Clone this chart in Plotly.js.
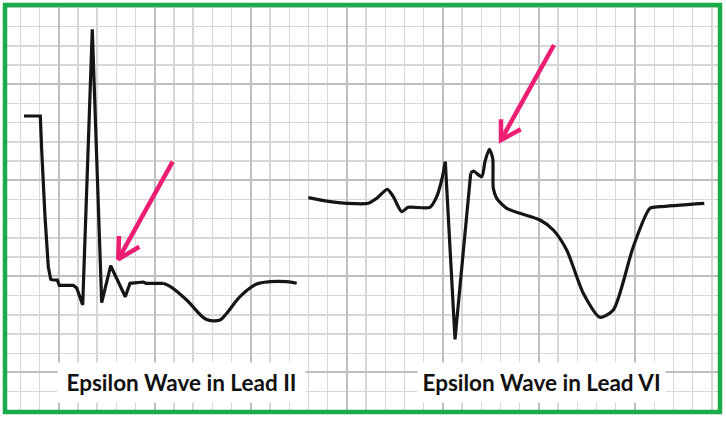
<!DOCTYPE html>
<html><head><meta charset="utf-8">
<script src="https://cdn.plot.ly/plotly-3.0.1.min.js"></script>
<style>html,body{margin:0;padding:0;background:#fff}#chart{width:726px;height:422px}</style>
</head><body><div id="chart"></div>
<script>
// Units: small ECG boxes (1 box = 40 ms horizontally, 0.1 mV vertically)
// Lead II – baseline & QRS (straight strokes)
const leadII_qrs_t = [-1.806,-0.958,-0.885,-0.713,-0.541,-0.416,-0.281,-0.073,0.031,0.760,0.937,1.249,1.749,2.238,2.707,3.467,3.712,4.404,4.545,5.445];
const leadII_qrs_v = [8.350,8.350,6.580,3.108,0.505,-0.151,-0.187,-0.187,-0.463,-0.463,-0.604,-1.489,12.863,-1.369,0.557,-1.057,-0.359,-0.292,-0.359,-0.359];
// Lead II – ST segment & inverted T wave (smooth)
const leadII_t_t = [5.445,5.800,6.663,7.668,8.397,8.745,9.438,10.307,10.999,11.869,12.389];
const leadII_t_v = [-0.359,-0.520,-1.229,-2.233,-2.270,-1.921,-1.057,-0.396,-0.276,-0.276,-0.359];
// Lead V1 – P wave & onset of QRS (smooth)
const leadV1_p_t = [12.993,14.123,14.992,16.116,16.554,17.106,17.418,17.855,18.199,19.329,19.677,19.938,20.125];
const leadV1_p_v = [4.097,3.889,3.805,3.805,4.066,4.534,4.149,3.368,3.597,3.597,4.149,5.018,5.971];
// Lead V1 – deep QS spike (straight strokes)
const leadV1_qrs_t = [20.125,20.630,21.447];
const leadV1_qrs_v = [5.971,-3.274,5.367];
// Lead V1 – epsilon notch, ST segment & inverted T wave (smooth)
const leadV1_t_t = [21.447,21.582,22.020,22.191,22.415,22.592,22.624,22.801,23.321,24.014,25.055,25.747,26.444,27.309,28.178,28.870,29.911,30.781,31.301,33.607];
const leadV1_t_v = [5.367,5.487,5.190,5.971,6.616,6.148,4.586,4.066,3.545,3.285,2.936,2.415,1.374,-0.880,-2.129,-1.749,1.546,3.545,3.628,3.805];
// Arrows pointing at the epsilon waves: [tail, tip, null, head end 1, tip, head end 2]
const arrowII_x = [5.934,3.103,null,3.139,3.103,4.196];
const arrowII_y = [5.971,0.890,null,2.103,0.890,1.546];
const arrowV1_x = [25.784,23.025,null,23.025,23.025,24.050];
const arrowV1_y = [12.046,7.100,null,8.178,7.100,7.657];
// Captions
const captions = ["Epsilon Wave in Lead II","Epsilon Wave in Lead VI"];
const caption_x = [6.37,25.15];
const caption_y = [-5.5,-5.5];

const ink = '#151515', pink = '#ec1e74', green = '#1bab4b';
const ecg = (x,y,spline,sm)=>({x:x,y:y,mode:'lines',hoverinfo:'skip',
  line:spline?{color:ink,width:3.2,shape:'spline',smoothing:sm}:{color:ink,width:3.2}});
const traces = [
  ecg(leadII_qrs_t,leadII_qrs_v,false),
  ecg(leadII_t_t,leadII_t_v,true,0.9),
  ecg(leadV1_p_t,leadV1_p_v,true,0.7),
  ecg(leadV1_qrs_t,leadV1_qrs_v,false),
  ecg(leadV1_t_t,leadV1_t_v,true,0.7),
  {x:arrowII_x,y:arrowII_y,mode:'lines',line:{color:pink,width:4.5},hoverinfo:'skip'},
  {x:arrowV1_x,y:arrowV1_y,mode:'lines',line:{color:pink,width:4.5},hoverinfo:'skip'}
];
const gridAxis = (range)=>({
  range:range, showticklabels:false, ticks:'', zeroline:false, showline:false,
  tick0:0, dtick:5, showgrid:true, gridcolor:'#bfbfbf', gridwidth:2,
  minor:{tick0:0, dtick:1, showgrid:true, gridcolor:'#d7d7d7', gridwidth:1.4, ticks:''},
  fixedrange:true
});
const layout = {
  width:726, height:422,
  margin:{l:5,r:6,t:5,b:10},
  paper_bgcolor:'#fff', plot_bgcolor:'#fff',
  showlegend:false,
  xaxis:gridAxis([-2.795,34.425]),
  yaxis:gridAxis([-7.059,14.128]),
  shapes:[{type:'rect',xref:'paper',yref:'paper',x0:0,x1:1,y0:0,y1:1,line:{color:green,width:4.5},layer:'above'}],
  annotations: captions.map((t,i)=>({
    text:t, x:caption_x[i], y:caption_y[i], xref:'x', yref:'y', showarrow:false,
    bgcolor:'#ffffff', width:245, height:37,
    font:{family:'Lato, "Open Sans", sans-serif', size:22.5, color:'#111', weight:700}
  }))
};
Plotly.newPlot('chart', traces, layout, {staticPlot:true, displayModeBar:false});
</script></body></html>
